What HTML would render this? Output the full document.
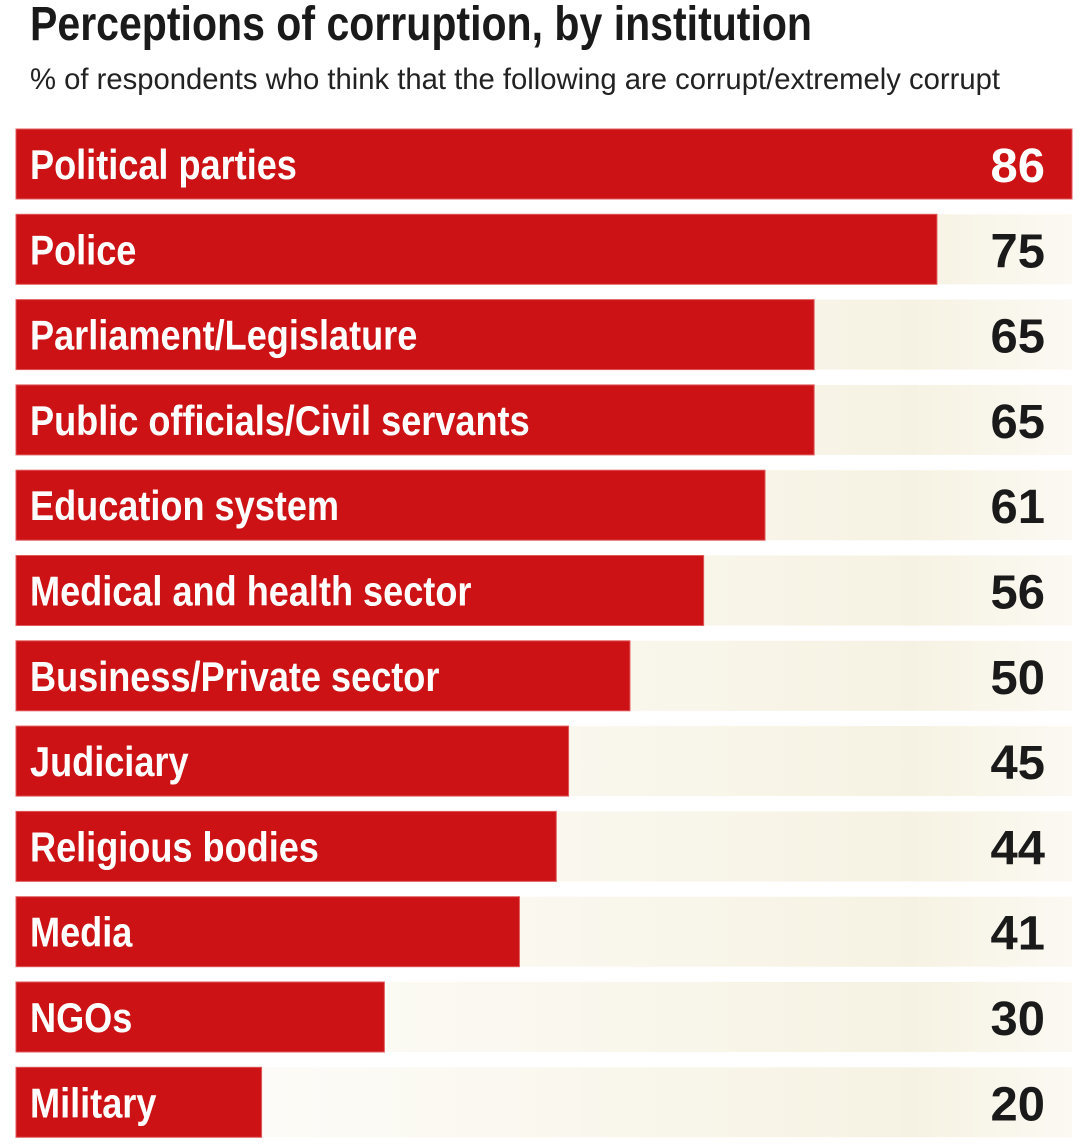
<!DOCTYPE html>
<html><head><meta charset="utf-8"><style>
body{margin:0;background:#fff}
svg{display:block}
text{font-family:"Liberation Sans Narrow","Liberation Sans",sans-serif}
</style></head><body>
<svg id="c" width="1082" height="1148">
<defs>
<linearGradient id="trk" x1="0" x2="1" y1="0" y2="0">
<stop offset="0" stop-color="#ffffff"/><stop offset="0.85" stop-color="#f6f2e3"/><stop offset="1" stop-color="#fbf9f2"/>
</linearGradient>
</defs>
<text x="30" y="40" font-size="48" font-weight="bold" fill="#1a1a1a" textLength="782" lengthAdjust="spacingAndGlyphs">Perceptions of corruption, by institution</text>
<text x="30" y="89" font-size="30" fill="#222" textLength="970" lengthAdjust="spacingAndGlyphs">% of respondents who think that the following are corrupt/extremely corrupt</text>
<g id="bars"></g>
</svg>
<script>
const categories=["Political parties","Police","Parliament/Legislature","Public officials/Civil servants","Education system","Medical and health sector","Business/Private sector","Judiciary","Religious bodies","Media","NGOs","Military"];
const values=[86,75,65,65,61,56,50,45,44,41,30,20];
const ns="http://www.w3.org/2000/svg";
const g=document.getElementById('bars');
const x0=16,xScale=v=>x0+v*(1056/86);
const yTop=i=>129+i*85.3,bh=70;
function mk(t,a){const e=document.createElementNS(ns,t);for(const k in a)e.setAttribute(k,a[k]);return e;}
categories.forEach((c,i)=>{
  const y=yTop(i);
  const tr=mk('rect',{x:x0,y:y,width:1056,height:bh,fill:'url(#trk)'});
  
  
  g.appendChild(tr);
  const r=mk('rect',{x:x0,y:y,width:xScale(values[i])-x0,height:bh,fill:'#cc1214',stroke:'#e05a5c','stroke-width':1});
  
  
  g.appendChild(r);
  const s=0.86;
  const t=mk('text',{x:30/s,y:y+50,'font-size':42,'font-weight':'bold',fill:'#fff',transform:'scale('+s+',1)'});
  t.textContent=c;
  
  
  g.appendChild(t);
  const s2=1.02;
  const v=mk('text',{x:1045/s2,y:y+53,'font-size':48,'font-weight':'bold','text-anchor':'end',fill:i===0?'#fff':'#1a1a1a',transform:'scale('+s2+',1)'});
  v.textContent=values[i];
  
  
  g.appendChild(v);
});
</script>
</body></html>
